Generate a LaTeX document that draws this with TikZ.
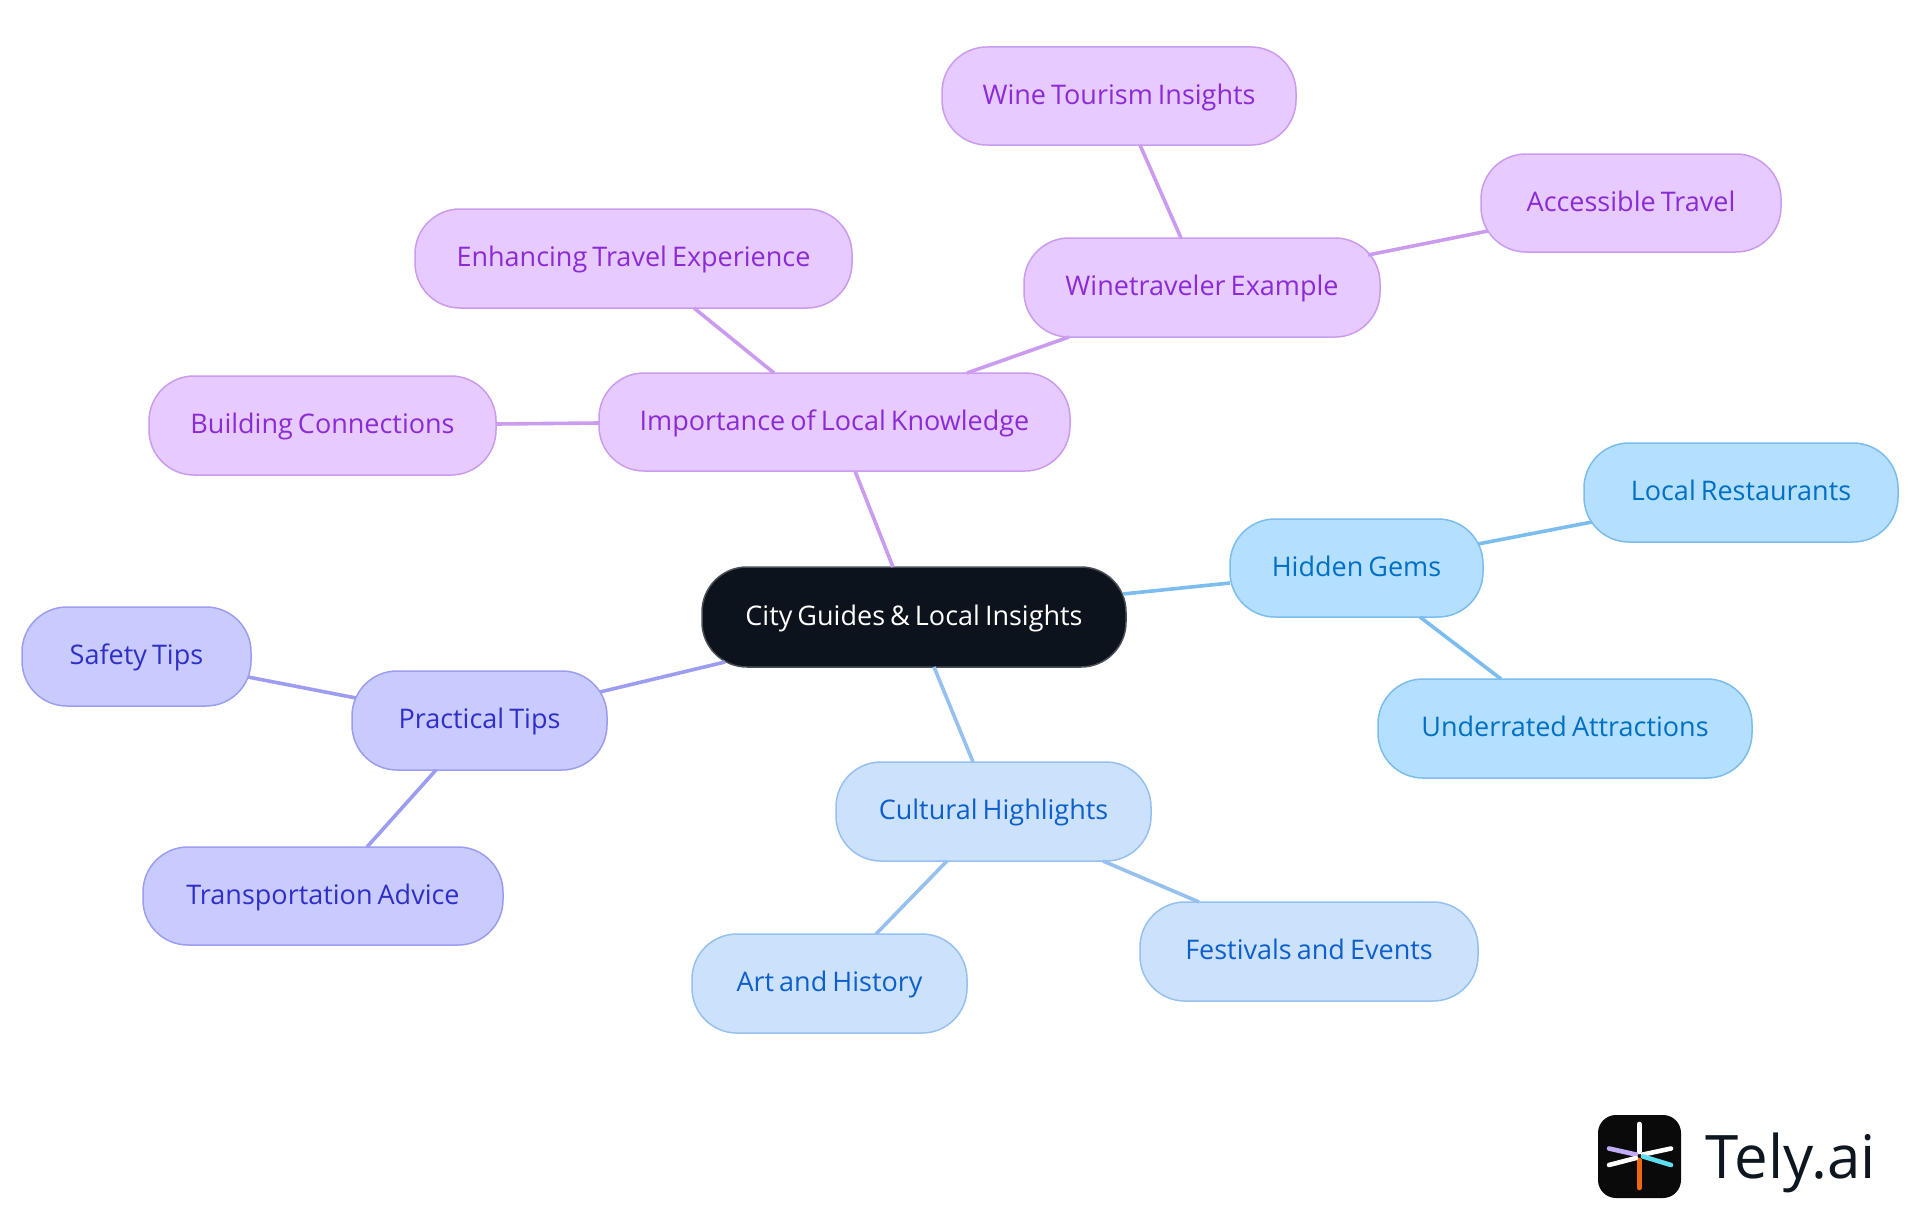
\documentclass[tikz,border=0pt]{standalone}
\usepackage{fontspec}
\usetikzlibrary{calc}
\setmainfont[WordSpace=0.72]{Open Sans}
\newfontfamily\logofont{Open Sans}
\definecolor{purF}{HTML}{E7CAFF}\definecolor{purB}{HTML}{CB9BF0}\definecolor{purT}{HTML}{8B2BD6}
\definecolor{bluF}{HTML}{B4DFFF}\definecolor{bluB}{HTML}{7ABDEE}\definecolor{bluT}{HTML}{0070C4}
\definecolor{lbF}{HTML}{CCE2FC}\definecolor{lbB}{HTML}{96C0F0}\definecolor{lbT}{HTML}{0D5FCB}
\definecolor{indF}{HTML}{C9CAFE}\definecolor{indB}{HTML}{9C9DF0}\definecolor{indT}{HTML}{2F2FC8}
\definecolor{rootF}{HTML}{0C131C}\definecolor{rootB}{HTML}{4A4F55}
\definecolor{logoT}{HTML}{0E1720}\definecolor{logoP}{HTML}{C4ABF5}\definecolor{logoC}{HTML}{5EDDEE}\definecolor{logoO}{HTML}{F0670F}
\tikzset{
 pill/.style={rounded corners=45pt,line width=1.5pt,inner sep=0pt,text height=20pt,text depth=4pt,font=\fontsize{27}{32}\selectfont},
 pur/.style={pill,fill=purF,draw=purB,text=purT},
 blu/.style={pill,fill=bluF,draw=bluB,text=bluT},
 lb/.style={pill,fill=lbF,draw=lbB,text=lbT},
 ind/.style={pill,fill=indF,draw=indB,text=indT},
 rootn/.style={pill,fill=rootF,draw=rootB,text=white},
 cP/.style={line width=3.6pt,draw=purB},
 cB/.style={line width=3.6pt,draw=bluB},
 cL/.style={line width=3.6pt,draw=lbB},
 cI/.style={line width=3.6pt,draw=indB},
 arm/.style={line width=4.6pt,line cap=round},
}
\newcommand{\pillnode}[7]{\node[#1,minimum width=#5pt-#4pt,minimum height=#7pt-#6pt] (#2) at ({(#4+#5)/2},{(#6+#7)/2}) {#3};}
\newcommand{\conn}[5]{\draw[#1] ($(#2.center)+(#3)$) -- ($(#4.center)+(#5)$);}
\begin{document}
\begin{tikzpicture}[x=1pt,y=-1pt]
\useasboundingbox (0,0) rectangle (1920,1215);
\fill[white] (0,0) rectangle (1920,1215);
\pillnode{rootn}{root}{City Guides \& Local Insights}{702}{1126}{567}{667}
\pillnode{pur}{imp}{Importance of Local Knowledge}{599}{1070}{373}{471}
\pillnode{pur}{wine}{Wine Tourism Insights}{942}{1296}{47}{145}
\pillnode{pur}{acc}{Accessible Travel}{1481}{1781}{154}{252}
\pillnode{pur}{wtr}{Winetraveler Example}{1024}{1380}{238}{337}
\pillnode{pur}{enh}{Enhancing Travel Experience}{415}{852}{209}{308}
\pillnode{pur}{bld}{Building Connections}{149}{496}{376}{475}
\pillnode{blu}{hid}{Hidden Gems}{1230}{1483}{519}{617}
\pillnode{blu}{loc}{Local Restaurants}{1584}{1898}{443}{542}
\pillnode{blu}{und}{Underrated Attractions}{1378}{1752}{679}{778}
\pillnode{lb}{cul}{Cultural Highlights}{836}{1151}{762}{861}
\pillnode{lb}{fes}{Festivals and Events}{1140}{1478}{902}{1001}
\pillnode{lb}{art}{Art and History}{692}{967}{934}{1033}
\pillnode{ind}{pra}{Practical Tips}{352}{607}{671}{770}
\pillnode{ind}{saf}{Safety Tips}{22}{251}{607}{706}
\pillnode{ind}{tra}{Transportation Advice}{143}{503}{847}{945}
\conn{cP}{root}{-21,-50}{imp}{20.5,49}
\conn{cL}{root}{20,50}{cul}{-20.5,-49.5}
\conn{cB}{root}{209,-23}{hid}{-126.5,15}
\conn{cI}{root}{-189,45}{pra}{120.5,-28.5}
\conn{cP}{imp}{132.5,-49}{wtr}{-133,49.5}
\conn{cP}{imp}{-60.5,-49}{enh}{60.5,49.5}
\conn{cP}{imp}{-235.5,1}{bld}{173.5,-1.5}
\conn{cP}{wtr}{-21,-49.5}{wine}{21,49}
\conn{cP}{wtr}{166,-32.5}{acc}{-143,28}
\conn{cB}{hid}{121.5,-24}{loc}{-149,29.5}
\conn{cB}{hid}{63.5,49}{und}{-64,-49.5}
\conn{cL}{cul}{109.5,49.5}{fes}{-110,-49.5}
\conn{cL}{cul}{-46.5,49.5}{art}{46.5,-49.5}
\conn{cI}{pra}{-123.5,-22.5}{saf}{111.5,20.5}
\conn{cI}{pra}{-43.5,49.5}{tra}{44,-49}
% logo
\node[fill=black!96,rounded corners=18pt,minimum width=83pt,minimum height=83pt,inner sep=0pt] (logo) at (1639.5,1156.5) {};
\draw[arm,white] (1639.3,1152) -- (1639.3,1124);
\draw[arm,logoO] (1639.3,1160) -- (1639.3,1188);
\draw[arm,logoP] (1636,1154.5) -- (1609,1148.5);
\draw[arm,white] (1643,1154.5) -- (1671,1148.5);
\draw[arm,white] (1636,1158) -- (1609,1165);
\draw[arm,logoC] (1643,1156.5) -- (1671,1165);
\node[anchor=base west,inner sep=0pt,text=logoT,font=\logofont\fontsize{60}{70}\selectfont] (brand) at (1705.5,1178) {Tely.ai};
\end{tikzpicture}
\end{document}
